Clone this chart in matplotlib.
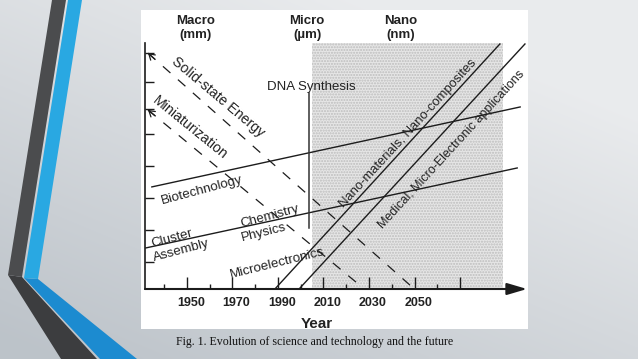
import numpy as np
import matplotlib.pyplot as plt
from matplotlib.patches import Polygon, Rectangle
from matplotlib.transforms import ScaledTranslation

plt.rcParams['font.family'] = ['Liberation Sans', 'DejaVu Sans']
plt.rcParams['hatch.linewidth'] = 1.0

# ---- values (x = year, y = relative level 0-100) ----
years_major = [1950, 1970, 1990, 2010, 2030, 2050, 2070]
years_minor = [1940, 1960, 1980, 2000, 2020, 2040, 2060]
year_labels = ['1950', '1970', '1990', '2010', '2030', '2050', '']
level_ticks = [11, 24, 37, 50, 63, 73, 84, 96]

# solid trend lines
biotech_x = [1934.7, 2096.3]
biotech_y = [41.5, 74.0]
cluster_x = [1932.1, 2095.0]
cluster_y = [16.7, 49.2]
nano_x = [1988.7, 2087.4]
nano_y = [0, 99.6]
medical_x = [1999.3, 2098.4]
medical_y = [0, 99.6]
dna_x = [2003.6, 2003.6]
dna_y = [24.8, 79.7]

# dashed lines (start on the left axis, run down to the year axis)
solid_state_x = [1933.0, 2048.9]
solid_state_y = [95.9, 0.8]
miniatur_x = [1933.0, 2026.9]
miniatur_y = [72.8, 0.8]

# dotted "nano" zone
nano_zone_x = [2005.0, 2088.8]
nano_zone_y = [0, 100]

ink = '#1c1c1c'

fig = plt.figure(figsize=(6.38, 3.59), dpi=100)

# slide background
bg = fig.add_axes([0, 0, 1, 1])
u, v = np.meshgrid(np.linspace(0, 1, 320), np.linspace(0, 1, 180))
f = np.clip((1 - u) * 0.55 + v * 0.75 - 0.25, 0, 1)
light = np.array([0.915, 0.922, 0.93])
dark = np.array([0.74, 0.765, 0.79])
grad = light + (dark - light) * f[..., None]
bg.imshow(grad, extent=[0, 638, 359, 0], aspect='auto', interpolation='bilinear')
bg.set_xlim(0, 638)
bg.set_ylim(359, 0)
bg.axis('off')

# decorative stripes on the left
bg.add_patch(Polygon([(8, 275), (22, 277), (97, 359), (61, 359)], closed=True, fc='#3c3d3f', ec='none'))
bg.add_patch(Polygon([(52, 0), (66, 0), (22, 277), (8, 275)], closed=True, fc='#4b4c4e', ec='none'))
bg.add_patch(Polygon([(24, 278), (38, 279), (137, 359), (100, 359)], closed=True, fc='#1c8bd0', ec='none'))
bg.add_patch(Polygon([(68, 0), (82, 0), (38, 279), (24, 278)], closed=True, fc='#29a8e2', ec='none'))

# white picture panel
bg.add_patch(Rectangle((141, 10), 387, 319, fc='white', ec='none'))

# caption
fig.text(314.5 / 638, 1 - 342 / 359, 'Fig. 1. Evolution of science and technology and the future',
         family='Liberation Serif', fontsize=8.6, color='#111111', ha='center', va='center')

# main diagram axes
ax = fig.add_axes([145 / 638, 70 / 359, 382 / 638, 246 / 359])
ax.patch.set_alpha(0)
ax.set_xlim(1931.7, 2099.3)
ax.set_ylim(0, 100)

for side in ['top', 'right', 'bottom']:
    ax.spines[side].set_visible(False)
ax.spines['left'].set_linewidth(1.2)
ax.spines['left'].set_color(ink)

ax.annotate('', xy=(1, 0), xycoords='axes fraction', xytext=(0, 0), textcoords='axes fraction',
            arrowprops=dict(arrowstyle='-|>,head_length=1.22,head_width=0.36', mutation_scale=10,
                            lw=1.5, color=ink, shrinkA=0, shrinkB=0), zorder=5)

ax.set_xticks(years_major)
ax.set_xticklabels(year_labels, fontweight='bold', fontsize=9, color='#222222')
ax.set_xticks(years_minor, minor=True)
ax.tick_params(axis='x', which='major', direction='in', length=8.6, width=1.0, pad=6, color=ink)
ax.tick_params(axis='x', which='minor', direction='in', length=3.6, width=1.0, color=ink)
for lab in ax.get_xticklabels():
    lab.set_transform(lab.get_transform() + ScaledTranslation(4 / 100, 0, fig.dpi_scale_trans))
ax.set_yticks(level_ticks)
ax.tick_params(axis='y', direction='in', length=6.5, width=1.0, labelleft=False, color=ink)

# dotted nano zone
ax.add_patch(Rectangle((nano_zone_x[0], nano_zone_y[0]), nano_zone_x[1] - nano_zone_x[0],
                       nano_zone_y[1] - nano_zone_y[0], fc='#e6e6e6', ec='#bdbdbd',
                       hatch='......', lw=0, zorder=0))

# lines
for xs, ys in [(biotech_x, biotech_y), (cluster_x, cluster_y), (nano_x, nano_y),
               (medical_x, medical_y)]:
    ax.plot(xs, ys, color=ink, lw=1.0, clip_on=False, zorder=3)
ax.plot(dna_x, dna_y, color='#333333', lw=1.1, zorder=3)

for xs, ys in [(solid_state_x, solid_state_y), (miniatur_x, miniatur_y)]:
    ax.plot(xs, ys, color=ink, lw=0.9, dashes=(8, 8), zorder=3)
    x_tip = xs[0] + 3.0
    y_tip = np.interp(x_tip, xs, ys)
    ax.annotate('', xy=(xs[0], ys[0]), xytext=(x_tip, y_tip),
                arrowprops=dict(arrowstyle='->,head_length=0.4,head_width=0.25', lw=0.9,
                                color=ink, shrinkA=0, shrinkB=0))


def disp_angle(xs, ys):
    p = ax.transData.transform(np.column_stack([xs, ys]))
    return np.degrees(np.arctan2(p[1, 1] - p[0, 1], p[1, 0] - p[0, 0]))


txt = dict(color='#222222', ha='center', va='center', rotation_mode='anchor')
ax.text(1954.0, 106.0, 'Macro\n(mm)', fontsize=9.5, fontweight='bold', linespacing=1.2, **txt)
ax.text(2002.8, 106.0, 'Micro\n(\u00b5m)', fontsize=9.5, fontweight='bold', linespacing=1.2, **txt)
ax.text(2044.0, 106.0, 'Nano\n(nm)', fontsize=9.5, fontweight='bold', linespacing=1.2, **txt)
ax.text(2007.2, -14.2, 'Year', fontsize=11, fontweight='bold', **txt)

ax.text(2004.5, 82.1, 'DNA Synthesis', fontsize=9.5, **txt)
ax.text(1963.7, 78.0, 'Solid-state Energy', fontsize=10.2, rotation=-40, **txt)
ax.text(1951.4, 65.4, 'Miniaturization', fontsize=10.2, rotation=-39, **txt)
ax.text(1956.7, 40.2, 'Biotechnology', fontsize=9.6, rotation=15, **txt)
ax.text(1943.5, 20.3, 'Cluster', fontsize=9.6, rotation=15, **txt)
ax.text(1947.5, 15.4, 'Assembly', fontsize=9.6, rotation=15, **txt)
ax.text(1986.5, 29.7, 'Chemistry', fontsize=9.6, rotation=15, **txt)
ax.text(1983.9, 22.8, 'Physics', fontsize=9.6, rotation=14, **txt)
ax.text(1989.6, 10.6, 'Microelectronics', fontsize=9.6, rotation=14, **txt)

diag = disp_angle(nano_x, nano_y)
ax.text(2047.1, 63.0, 'Nano-materials, Nano-composites', fontsize=9.4, rotation=diag, **txt)
ax.text(2066.4, 56.5, 'Medical, Micro-Electronic applications', fontsize=9.0, rotation=diag, **txt)

fig.savefig('out.png', dpi=100)
